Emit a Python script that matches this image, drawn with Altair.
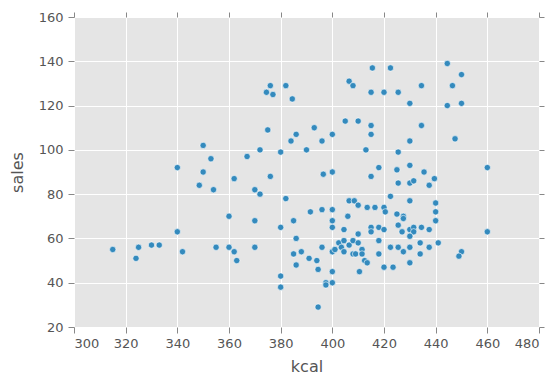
import altair as alt
import pandas as pd

kcal = [315, 324, 325, 330, 333, 340, 342, 340, 350, 353, 350, 348.5, 354, 355, 360, 360, 362, 363, 362, 367,
        370, 370, 370, 372, 372, 375, 376, 374.5, 377, 382, 384.5, 376, 380, 380, 380, 380, 382, 384, 386, 390,
        385, 386, 385, 388, 386, 391.5, 391, 393, 396, 400, 396.5, 400, 396, 400, 400, 400, 394, 394.5, 396, 400,
        401, 402.5, 403.5, 404.5, 404.5, 406.5, 408, 410, 408, 409, 411.5, 411.5, 412.5, 413.5, 410.5, 400, 397.5, 397.5, 400, 394.5,
        404.5, 406, 410, 406.5, 408.5, 410, 413.5, 416.5, 420, 420.5, 422.5, 415, 415, 418, 420, 418, 418, 422.5, 425.5, 420,
        423.5, 425, 427.5, 427.5, 425.5, 427, 430, 431.5, 431.5, 434.5, 437.5, 430, 430, 434, 437.5, 441, 427.5, 434, 430, 430,
        440, 440, 440, 405, 410, 415, 415, 413, 406.5, 408, 415.5, 422.5, 415, 420, 425.5, 430, 434.5, 444.5, 450, 446.5,
        444.5, 450, 434.5, 430, 447.5, 425.5, 430, 418, 425, 435.5, 415, 460, 425.5, 430, 431.5, 439.5, 437.5, 460, 450, 449]
sales = [55, 51, 56, 57, 57, 63, 54, 92, 102, 96, 90, 84, 82, 56, 56, 70, 54, 50, 87, 97,
         82, 68, 56, 80, 100, 109, 129, 126, 125, 129, 123, 88, 99, 65, 43, 38, 78, 104, 107, 100,
         68, 60, 53, 54, 48, 72, 51, 110, 104, 107, 89, 90, 73, 73, 68, 65, 50, 46, 56, 54,
         55, 58, 56, 59, 54, 57, 59, 58, 53, 53, 55, 53, 50, 49, 45, 45, 40, 39, 40, 29,
         64, 70, 62, 77, 77, 75, 74, 74, 74, 72, 79, 65, 63, 65, 64, 59, 53, 56, 56, 47,
         47, 71, 70, 69, 66, 63, 64, 65, 63, 65, 64, 61, 56, 58, 56, 58, 54, 53, 49, 77,
         76, 72, 68, 113, 113, 111, 107, 100, 131, 129, 137, 137, 126, 126, 126, 121, 129, 139, 134, 129,
         120, 121, 111, 104, 105, 99, 93, 92, 91, 90, 88, 92, 85, 85, 86, 87, 84, 63, 54, 52]

x_ticks = [300, 320, 340, 360, 380, 400, 420, 440, 460, 480]
y_ticks = [20, 40, 60, 80, 100, 120, 140, 160]

df = pd.DataFrame({"kcal": kcal, "sales": sales})

GREY = "#555555"
TICK = "#888888"

xs = alt.Scale(domain=[300, 480], nice=False, zero=False)
ys = alt.Scale(domain=[20, 160], nice=False, zero=False)

main = alt.Chart(df).mark_circle(
    size=40, color="#348ABD", opacity=1, stroke="white", strokeWidth=0.6
).encode(
    x=alt.X("kcal:Q", scale=xs, title="kcal",
            axis=alt.Axis(values=x_ticks, grid=True, gridColor="white", gridWidth=1,
                          domain=False, tickColor=TICK, tickSize=6,
                          labelColor=GREY, labelFontSize=13, labelPadding=4,
                          labelFont="DejaVu Sans", titleFont="DejaVu Sans",
                          titleColor=GREY, titleFontSize=16, titleFontWeight="normal",
                          titlePadding=8)),
    y=alt.Y("sales:Q", scale=ys, title="sales",
            axis=alt.Axis(values=y_ticks, grid=True, gridColor="white", gridWidth=1,
                          domain=False, tickColor=TICK, tickSize=6,
                          labelColor=GREY, labelFontSize=13, labelPadding=5,
                          labelFont="DejaVu Sans", titleFont="DejaVu Sans",
                          titleColor=GREY, titleFontSize=16, titleFontWeight="normal",
                          titlePadding=13)),
)

frame = alt.Chart(df).mark_circle(opacity=0).encode(
    x=alt.X("kcal:Q", scale=xs, title=None,
            axis=alt.Axis(orient="top", values=x_ticks, grid=False, domain=False,
                          labels=False, tickColor=TICK, tickSize=5)),
    y=alt.Y("sales:Q", scale=ys, title=None,
            axis=alt.Axis(orient="right", values=y_ticks, grid=False, domain=False,
                          labels=False, tickColor=TICK, tickSize=5)),
)

chart = alt.layer(main, frame).resolve_axis(x="independent", y="independent").properties(
    width=465, height=310,
    autosize=alt.AutoSizeParams(type="none"),
    padding={"left": 74, "top": 17, "right": 21, "bottom": 60},
    background="white",
).configure_view(fill="#E5E5E5", stroke=None)

chart.save("out.html", embed_options={"renderer": "svg", "actions": False})
